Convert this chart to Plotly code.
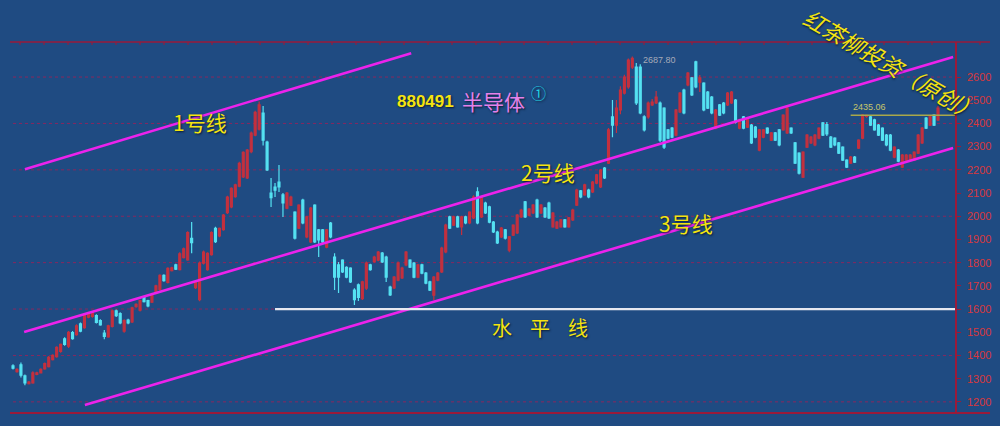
import plotly.graph_objects as go

# ---------------- data ----------------
O = [1355,1330,1360,1312,1278,1282,1318,1325,1342,1352,
     1382,1395,1418,1472,1440,1498,1490,1536,1520,1565,
     1568,1572,1550,1496,1480,1525,1592,1580,1505,1552,
     1545,1610,1595,1650,1636,1630,1668,1685,1745,1715,
     1765,1790,1770,1822,1812,1905,1692,1640,1798,1770,
     1835,1948,1915,1942,2015,2040,2085,2130,2170,2165,
     2278,2350,2375,2445,2320,2100,2126,2147,2092,2035,
     2048,2018,1949,2070,1911,1889,2048,1941,1941,1867,
     1971,1824,1790,1811,1780,1777,1682,1704,1645,1690,
     1790,1805,1811,1841,1824,1695,1691,1725,1734,1790,
     1811,1798,1738,1790,1755,1717,1660,1725,1760,1846,
     1997,1962,1997,1954,1997,1971,1993,2105,1997,2057,
     2040,1975,1932,1911,1941,1854,1919,1928,1997,2062,
     2005,2014,2070,2014,2035,2057,1954,1949,1954,1984,
     1954,1984,2048,2109,2092,2113,2105,2143,2126,2208,
     2229,2428,2393,2458,2531,2557,2643,2643,2643,2428,
     2428,2480,2488,2488,2466,2372,2380,2350,2450,2544,
     2566,2596,2665,2578,2574,2535,2514,2380,2480,2488,
     2480,2488,2501,2380,2428,2384,2393,2384,2285,2341,
     2380,2328,2359,2372,2372,2359,2380,2316,2272,2169,
     2298,2316,2307,2337,2402,2395,2341,2337,2316,2298,
     2242,2229,2255,2294,2337,2430,2428,2415,2393,2380,
     2350,2350,2255,2285,2212,2242,2242,2242,2272,2316,
     2423,2393,2436,2415]
C = [1345,1340,1315,1282,1285,1325,1325,1340,1365,1392,
     1400,1435,1448,1448,1500,1472,1528,1505,1572,1582,
     1588,1542,1532,1482,1528,1592,1572,1540,1550,1540,
     1605,1620,1636,1632,1614,1665,1700,1745,1722,1775,
     1778,1772,1838,1860,1930,1886,1714,1798,1846,1840,
     1930,1890,1948,2005,2083,2120,2135,2228,2275,2285,
     2358,2448,2480,2328,2200,2080,2112,2126,2057,2100,
     2083,1906,2048,1971,1997,2035,1889,1898,1889,1941,
     1911,1738,1738,1760,1738,1717,1640,1650,1717,1798,
     1770,1824,1846,1803,1738,1661,1738,1798,1777,1846,
     1781,1738,1790,1755,1712,1682,1738,1755,1863,1962,
     1949,1997,1954,1997,1971,2018,2083,1971,2083,2014,
     1975,1932,1885,1949,1906,1911,1962,2005,2027,1997,
     2031,2048,1997,2048,1997,1993,2014,1975,1984,1954,
     1993,2027,2113,2083,2135,2083,2147,2178,2199,2165,
     2372,2393,2466,2544,2600,2673,2680,2488,2445,2372,
     2488,2492,2514,2328,2298,2337,2341,2458,2531,2445,
     2617,2523,2557,2596,2458,2466,2445,2458,2436,2445,
     2531,2535,2406,2415,2380,2423,2316,2341,2372,2372,
     2359,2359,2328,2307,2436,2466,2359,2229,2186,2276,
     2350,2341,2350,2380,2350,2355,2298,2307,2272,2242,
     2212,2255,2233,2328,2436,2435,2393,2372,2350,2328,
     2307,2285,2298,2238,2264,2264,2264,2276,2350,2380,
     2380,2428,2393,2466]
H = [1362,1345,1370,1318,1290,1332,1330,1345,1370,1398,
     1405,1440,1452,1478,1505,1505,1535,1542,1578,1588,
     1592,1578,1556,1510,1532,1598,1598,1586,1556,1558,
     1610,1625,1640,1655,1640,1670,1705,1750,1750,1780,
     1782,1795,1845,1865,1935,1975,1720,1805,1852,1845,
     1935,1955,1952,2010,2088,2125,2140,2235,2280,2290,
     2365,2455,2495,2475,2325,2165,2143,2221,2100,2105,
     2088,2022,2052,2075,2002,2040,2052,1945,1945,1945,
     1975,1841,1803,1815,1785,1780,1690,1710,1722,1805,
     1795,1830,1850,1846,1830,1700,1742,1805,1782,1850,
     1815,1803,1795,1795,1760,1722,1742,1760,1868,1968,
     2002,2002,2002,2002,2002,2022,2090,2125,2088,2062,
     2045,1980,1937,1954,1945,1915,1966,2010,2032,2066,
     2036,2053,2075,2053,2040,2062,2018,1980,1988,1988,
     1997,2032,2118,2113,2140,2118,2152,2182,2204,2212,
     2380,2501,2501,2560,2610,2680,2688,2660,2655,2435,
     2495,2505,2540,2495,2470,2376,2385,2462,2535,2550,
     2622,2600,2670,2609,2578,2540,2518,2462,2484,2492,
     2535,2540,2505,2420,2432,2428,2398,2389,2376,2376,
     2384,2363,2363,2376,2440,2475,2384,2320,2276,2280,
     2355,2346,2355,2384,2406,2406,2346,2341,2320,2302,
     2246,2260,2260,2332,2440,2435.06,2432,2420,2398,2384,
     2355,2355,2302,2290,2268,2268,2268,2280,2355,2385,
     2428,2432,2440,2475]
L = [1340,1325,1305,1272,1275,1278,1315,1322,1338,1348,
     1378,1390,1412,1442,1432,1468,1485,1500,1515,1560,
     1562,1538,1528,1470,1476,1520,1566,1535,1498,1535,
     1540,1606,1590,1628,1608,1626,1664,1680,1718,1710,
     1762,1768,1766,1818,1808,1841,1686,1634,1792,1765,
     1830,1885,1910,1938,2010,2035,2080,2125,2165,2160,
     2272,2345,2370,2305,2195,2040,2083,2105,1997,2030,
     2044,1900,1945,1965,1905,1885,1885,1824,1885,1862,
     1905,1682,1669,1755,1733,1712,1617,1635,1639,1682,
     1765,1800,1806,1798,1717,1656,1686,1720,1730,1785,
     1777,1733,1733,1750,1707,1678,1639,1720,1755,1840,
     1945,1958,1950,1919,1966,1966,1988,1966,1992,2010,
     1970,1928,1880,1906,1900,1845,1915,1924,1992,1992,
     2000,2010,1992,2010,1992,1988,1950,1945,1950,1950,
     1950,1980,2044,2078,2088,2078,2100,2138,2122,2160,
     2225,2341,2359,2440,2525,2550,2635,2480,2440,2365,
     2420,2475,2484,2320,2290,2332,2336,2345,2445,2440,
     2560,2518,2552,2535,2453,2462,2440,2375,2432,2440,
     2475,2484,2400,2375,2375,2380,2311,2336,2280,2336,
     2354,2324,2324,2302,2368,2355,2354,2225,2180,2165,
     2294,2311,2302,2332,2346,2346,2294,2302,2268,2238,
     2208,2225,2229,2290,2332,2425,2389,2368,2346,2324,
     2302,2280,2250,2233,2208,2238,2238,2238,2268,2311,
     2376,2389,2389,2410]

N = min(len(O), len(H), len(L), len(C))
IDX = list(range(N))

Y_TICKS = [1200, 1300, 1400, 1500, 1600, 1700, 1800, 1900,
           2000, 2100, 2200, 2300, 2400, 2500, 2600]
GRID_LEVELS = [1200, 1400, 1600, 1800, 2000, 2200, 2400, 2600]

# drawn channel lines (candle index, price)
LINE1_X = [3.0, 100.3];  LINE1_Y = [2203, 2703]
LINE2_X = [2.8, 236.8];  LINE2_Y = [1501, 2686]
LINE3_X = [18.1, 236.8]; LINE3_Y = [1186, 2294]
FLAT_X = [66, 237.3];    FLAT_Y = [1600, 1600]
RES_X = [211, 237.3];    RES_Y = [2435.06, 2435.06]
PEAK_IDX, PEAK_VAL = 156, 2687.80

# ---------------- style ----------------
BG = "#1f4b82"
RED = "#c4303e"
CYAN = "#55e2f2"
MAG = "#ec22ec"
YEL = "#f4e410"
FRAME = "#9a1a3a"
CJK = "Noto Sans CJK SC"

W, HGT = 1000, 426
ML, MR, MT, MB = 0, 45, 42, 13
PW, PH = W - ML - MR, HGT - MT - MB


def px(x, y):
    return (x - ML) / PW, (HGT - MB - y) / PH


X_RANGE = [-13 / 3.97, (PW - 13) / 3.97]
Y_RANGE = [1152, 2751]

fig = go.Figure()
fig.add_trace(go.Candlestick(
    x=IDX, open=O[:N], high=H[:N], low=L[:N], close=C[:N],
    increasing=dict(line=dict(color=RED, width=1.2), fillcolor=RED),
    decreasing=dict(line=dict(color=CYAN, width=1.2), fillcolor=CYAN),
    whiskerwidth=0, hoverinfo="skip", showlegend=False))

for xs, ys in [(LINE1_X, LINE1_Y), (LINE2_X, LINE2_Y), (LINE3_X, LINE3_Y)]:
    fig.add_trace(go.Scatter(x=xs, y=ys, mode="lines",
                             line=dict(color=MAG, width=2.6),
                             hoverinfo="skip", showlegend=False))
fig.add_trace(go.Scatter(x=FLAT_X, y=FLAT_Y, mode="lines",
                         line=dict(color="#e6e8f0", width=2.2),
                         hoverinfo="skip", showlegend=False))
fig.add_trace(go.Scatter(x=RES_X, y=RES_Y, mode="lines",
                         line=dict(color="#a9a84a", width=1.6),
                         hoverinfo="skip", showlegend=False))

shapes = []
for g in GRID_LEVELS:
    shapes.append(dict(type="line", xref="x", yref="y", x0=0, x1=X_RANGE[1],
                       y0=g, y1=g, layer="below",
                       line=dict(color="rgba(135,40,95,1)", width=1, dash="dot")))
# frame lines
x0, y0 = px(10, 42); x1, _ = px(990, 42)
shapes.append(dict(type="line", xref="paper", yref="paper", x0=x0, x1=x1, y0=y0, y1=y0,
                   line=dict(color=FRAME, width=1.5)))
x0, y0 = px(10, 413)
shapes.append(dict(type="line", xref="paper", yref="paper", x0=x0, x1=x1, y0=y0, y1=y0,
                   line=dict(color=FRAME, width=2)))
# top ticks
for tx in range(20, 990, 24):
    a, b = px(tx, 42)
    _, b2 = px(tx, 45)
    shapes.append(dict(type="line", xref="paper", yref="paper", x0=a, x1=a, y0=b, y1=b2,
                       line=dict(color=FRAME, width=1)))

ann = []
shadow = "1px 1px 2px #0a1a30"


def text(t, x, y, size, color, family=CJK, angle=0, bold=False, anchor="center"):
    a, b = px(x, y)
    ann.append(dict(text=("<b>%s</b>" % t) if bold else t, xref="paper", yref="paper",
                    x=a, y=b, xanchor=anchor, yanchor="middle", showarrow=False,
                    textangle=angle,
                    font=dict(family=family, size=size, color=color, shadow=shadow)))


text("1号线", 200, 122, 21, YEL)
text("2号线", 548, 172, 21, YEL)
text("3号线", 686, 223, 21, YEL)
text("水", 502, 327, 20, YEL)
text("平", 540, 327, 20, YEL)
text("线", 578, 327, 20, YEL)
text("880491", 425, 101, 17, YEL, family="Liberation Sans", bold=True)
text("半导体", 494, 101, 21, "#e482ea")
text("①", 538, 93, 15, "#22d4e6")
text("<i>红茶柳投资（原创）</i>", 892, 64, 22, YEL, angle=30)

ann.append(dict(text="2687.80", xref="x", yref="y", x=PEAK_IDX, y=PEAK_VAL,
                xanchor="left", yanchor="middle", xshift=9, yshift=-3, showarrow=False,
                font=dict(family="Liberation Sans", size=9, color="#a6aab8")))
ann.append(dict(text="2435.06", xref="x", yref="y", x=RES_X[0], y=RES_Y[0],
                xanchor="left", yanchor="bottom", yshift=1, showarrow=False,
                font=dict(family="Liberation Sans", size=9, color="#c6c66a")))

fig.update_layout(
    width=W, height=HGT, margin=dict(l=ML, r=MR, t=MT, b=MB),
    paper_bgcolor=BG, plot_bgcolor=BG,
    shapes=shapes, annotations=ann, showlegend=False,
    xaxis=dict(range=X_RANGE, showgrid=False, zeroline=False, showticklabels=False,
               showline=False, ticks="", rangeslider=dict(visible=False), fixedrange=True),
    yaxis=dict(range=Y_RANGE, side="right", showgrid=False, zeroline=False,
               tickvals=Y_TICKS, ticktext=[str(v) for v in Y_TICKS],
               ticks="outside", ticklen=4, tickcolor=FRAME,
               showline=True, linecolor=FRAME, linewidth=1.5,
               tickfont=dict(family="Liberation Sans", size=11, color="#d8383c"),
               ticklabelstandoff=4, fixedrange=True),
)

fig.write_html("out.html")
